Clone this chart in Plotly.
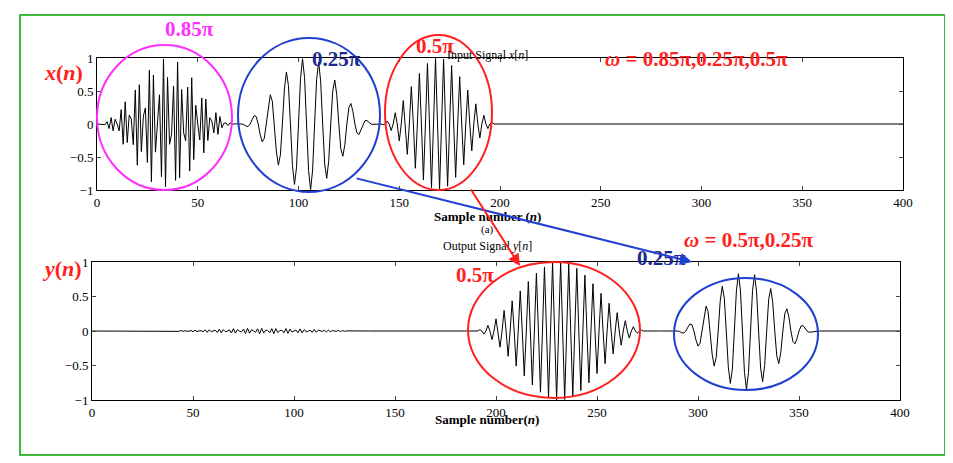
import numpy as np
import plotly.graph_objects as go
from plotly.subplots import make_subplots

W, H = 953, 463
OFF = 8  # page body margin

# burst parameters: start, length, frequency (x pi), peak amplitude
in_start = [0, 70, 140]
in_len = [70, 70, 60]
in_freq = [0.85, 0.25, 0.5]
in_amp = [1.0, 1.0, 1.0]

out_start = [30, 188, 288]
out_len = [110, 88, 72]
out_freq = [0.85, 0.5, 0.25]
out_amp = [0.04, 1.0, 0.85]

n = np.arange(0, 401)


def bursts(starts, lens, freqs, amps):
    s = np.zeros(len(n))
    for st, ln, f, a in zip(starts, lens, freqs, amps):
        k = n - st
        m = (k >= 0) & (k < ln)
        win = 0.5 - 0.5 * np.cos(2 * np.pi * k[m] / (ln - 1))
        s[m] += a * win * np.cos(f * np.pi * k[m])
    return s


x_sig = bursts(in_start, in_len, in_freq, in_amp)
y_sig = bursts(out_start, out_len, out_freq, out_amp)


def px(v):
    return (v - OFF) / W


def py(v):
    return 1 - (v - OFF) / H


fig = make_subplots(rows=2, cols=1)
fig.add_trace(go.Scatter(x=n[:200], y=x_sig[:200], mode="lines", line=dict(color="black", width=1)), 1, 1)
fig.add_trace(go.Scatter(x=[199, 400], y=[0, 0], mode="lines", line=dict(color="black", width=1)), 1, 1)
fig.add_trace(go.Scatter(x=n, y=y_sig, mode="lines", line=dict(color="black", width=1)), 2, 1)

ax = dict(showgrid=False, zeroline=False, showline=True, mirror="ticks", linecolor="black",
          ticks="inside", ticklen=4, tickfont=dict(size=13, family="Liberation Serif", color="black"))
fig.update_xaxes(range=[0, 400], dtick=50, **ax)
fig.update_yaxes(range=[-1, 1], tickvals=[-1, -0.5, 0, 0.5, 1],
                 ticktext=["−1", "−0.5", "0", "0.5", "1"], **ax)
fig.update_layout(
    xaxis=dict(domain=[px(97), px(903)]), yaxis=dict(domain=[py(190), py(58)]),
    xaxis2=dict(domain=[px(92), px(900)]), yaxis2=dict(domain=[py(400), py(262)]),
)

shapes = [dict(type="rect", x0=px(20), x1=px(945), y0=py(455), y1=py(15),
               xref="paper", yref="paper", line=dict(color="#3cb83c", width=2), layer="below")]
circles = [((97, 45, 232, 190), "#ff30ff"), ((238, 38, 380, 192), "#2040d0"),
           ((385, 35, 492, 190), "#ff2020"), ((468, 262, 640, 398), "#ff2020"),
           ((674, 278, 818, 390), "#2040d0")]
for (a, b, c, d), col in circles:
    shapes.append(dict(type="circle", xref="paper", yref="paper", x0=px(a), x1=px(c),
                       y0=py(d), y1=py(b), line=dict(color=col, width=2)))

ser = "Liberation Serif"
texts = [
    (163, 15, "<b>0.85π</b>", "#ff30ff", 21), (310, 45, "<b>0.25π</b>", "#1a2a90", 21),
    (435, 32, "<b>0.5π</b>", "#ff2020", 21), (790, 45, "<b><i>ω</i> = 0.85π,0.25π,0.5π</b>", "#ff2020", 21),
    (42, 58, "<b><i>x</i>(<i>n</i>)</b>", "#ff2020", 22), (40, 268, "<b><i>y</i>(<i>n</i>)</b>", "#ff2020", 22),
    (475, 275, "<b>0.5π</b>", "#ff2020", 21), (688, 258, "<b>0.25π</b>", "#1a2a90", 21),
    (815, 240, "<b><i>ω</i> = 0.5π,0.25π</b>", "#ff2020", 21),
    (487, 46, "Input Signal <i>x</i>[<i>n</i>]", "black", 12),
    (487, 216, "<b>Sample number (<i>n</i>)</b>", "black", 13),
    (487, 230, "(a)", "black", 11),
    (487, 246, "Output Signal <i>y</i>[<i>n</i>]", "black", 12),
    (487, 429, "<b>Sample number(<i>n</i>)</b>", "black", 13),
]
ann = [dict(x=px(xx), y=py(yy), xref="paper", yref="paper", text=t, showarrow=False,
            font=dict(color=c, size=s, family=ser)) for xx, yy, t, c, s in texts]
for (x0, y0, x1, y1), col in [((355, 178, 692, 262), "#2040d0"), ((470, 188, 520, 266), "#ff2020")]:
    ann.append(dict(x=px(x1), y=py(y1), ax=x0 - x1, ay=y0 - y1, xref="paper", yref="paper",
                    axref="pixel", ayref="pixel", text="", showarrow=True, arrowhead=2,
                    arrowsize=1.2, arrowwidth=2, arrowcolor=col))

fig.update_layout(width=W, height=H, margin=dict(l=0, r=0, t=0, b=0, autoexpand=False),
                  showlegend=False, plot_bgcolor="white", paper_bgcolor="white",
                  shapes=shapes, annotations=ann)
fig.write_html("out.html")
